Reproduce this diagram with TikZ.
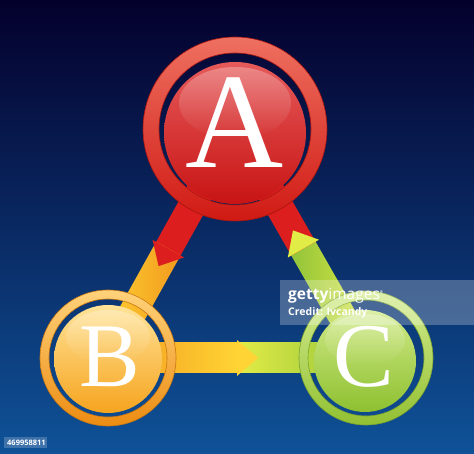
\documentclass[tikz,border=0pt]{standalone}
\usepackage{fontspec}
\setmainfont{Liberation Serif}
\newfontfamily\gettyfont{Open Sans}
\usetikzlibrary{calc,fadings}
\definecolor{bgtop}{HTML}{04002C}
\definecolor{bgmid}{HTML}{0B2A6A}
\definecolor{bgbot}{HTML}{0F5298}
\definecolor{rRing1}{HTML}{EE7060}
\definecolor{rRing2}{HTML}{E0261C}
\definecolor{rRing3}{HTML}{D01A14}
\definecolor{rBall1}{HTML}{E65A5A}
\definecolor{rBall2}{HTML}{D81C1C}
\definecolor{rBall3}{HTML}{C81414}
\definecolor{rBand}{HTML}{DC1E1E}
\definecolor{oRing1}{HTML}{FFD27A}
\definecolor{oRing2}{HTML}{F6A81C}
\definecolor{oRing3}{HTML}{EC8C12}
\definecolor{oBall1}{HTML}{FFE398}
\definecolor{oBall2}{HTML}{FCC03A}
\definecolor{oBall3}{HTML}{F6A41E}
\definecolor{yBand}{HTML}{FFD434}
\definecolor{oBand}{HTML}{F29A1E}
\definecolor{gRing1}{HTML}{D4EC90}
\definecolor{gRing2}{HTML}{A8CF3C}
\definecolor{gRing3}{HTML}{92C032}
\definecolor{gBall1}{HTML}{D0EA88}
\definecolor{gBall2}{HTML}{AAD23E}
\definecolor{gBall3}{HTML}{8EC030}
\definecolor{lgBand}{HTML}{E2EC46}
\definecolor{gBand}{HTML}{92C43A}
\tikzset{
  gloss/.style={white, path fading=south, fill opacity=0.28},
  letter/.style={text=white, inner sep=0pt, anchor=base},
}
\begin{document}
\begin{tikzpicture}[x=1pt,y=1pt]
\useasboundingbox (0,0) rectangle (474,454);
\shade[top color=bgtop, middle color=bgmid, bottom color=bgbot] (0,0) rectangle (474,454);

% centres
\coordinate (A) at (235,325);
\coordinate (Ab) at (235,321);
\coordinate (B) at (108,96);
\coordinate (Bb) at (108,95);
\coordinate (C) at (366,96);
\coordinate (Cb) at (365,93);

% A -> B
\begin{scope}[shift={(A)}, rotate=-119.12]
  \fill[rBand] (0,-14) rectangle (138,14);
  \shade[left color=yBand, right color=oBand] (137,-14) rectangle (261,14);
  \fill[rBand] (137,-18) -- (157,0) -- (137,18) -- cycle;
\end{scope}
% B -> C
\begin{scope}[shift={(B)}, rotate=0]
  \shade[left color=oBand, right color=yBand] (0,-15) rectangle (130,15);
  \shade[left color=lgBand, right color=gBand] (129,-15) rectangle (258,15);
  \fill[yBand] (129,-18) -- (150,0) -- (129,18) -- cycle;
\end{scope}
% C -> A
\begin{scope}[shift={(C)}, rotate=119.78]
  \shade[left color=gBand, right color=lgBand] (0,-14) rectangle (127,14);
  \fill[rBand] (126,-14) rectangle (264,14);
  \fill[lgBand] (126,-18) -- (147,0) -- (126,18) -- cycle;
\end{scope}

% ring A
\shade[even odd rule, top color=rRing1, middle color=rRing2, bottom color=rRing3] (A) circle (92) (A) circle (76);
\draw[rRing3!80!black, line width=0.6] (A) circle (92) (A) circle (76);
\shade[top color=rBall1, middle color=rBall2, bottom color=rBall3] (Ab) circle (71);
\fill[gloss] ($(Ab)+(0,30)$) ellipse (56 and 36);
\node[letter, font=\fontsize{136}{136}\selectfont] (la) at (235,286) {A};

% ring B
\shade[even odd rule, top color=oRing1, middle color=oRing2, bottom color=oRing3] (B) circle (68) (B) circle (59);
\draw[oRing3!85!black, line width=0.6] (B) circle (68) (B) circle (59);
\shade[top color=oBall1, middle color=oBall2, bottom color=oBall3] (Bb) circle (54);
\fill[gloss] ($(Bb)+(0,22)$) ellipse (42 and 27);
\node[letter, font=\fontsize{91}{91}\selectfont] (lb) at (110,67) {B};

% ring C
\shade[even odd rule, top color=gRing1, middle color=gRing2, bottom color=gRing3] (C) circle (67) (C) circle (58);
\draw[gRing3!85!black, line width=0.6] (C) circle (67) (C) circle (58);
\shade[top color=gBall1, middle color=gBall2, bottom color=gBall3] (Cb) circle (51);
\fill[gloss] ($(Cb)+(0,21)$) ellipse (40 and 26);
\node[letter, font=\fontsize{91}{91}\selectfont] (lc) at (364,67) {C};

% watermark
\fill[white, fill opacity=0.25] (280,129) rectangle (474,174);
\node[inner sep=0pt, anchor=base west, text=white, font=\gettyfont\fontsize{15.5}{15.5}\selectfont] (getty) at (288,154) {\textbf{getty}images\raisebox{6pt}{\fontsize{4}{4}\selectfont ®}};
\node[inner sep=0pt, anchor=base west, text=white, font=\gettyfont\bfseries\fontsize{10.5}{10.5}\selectfont] (credit) at (288,138) {Credit: Ivcandy};
\fill[white, fill opacity=0.2] (4,6) rectangle (47,17);
\node[inner sep=0pt, anchor=base west, text=white, font=\gettyfont\bfseries\fontsize{7.5}{7.5}\selectfont] (num) at (7,8.5) {469958811};
\end{tikzpicture}
\end{document}
